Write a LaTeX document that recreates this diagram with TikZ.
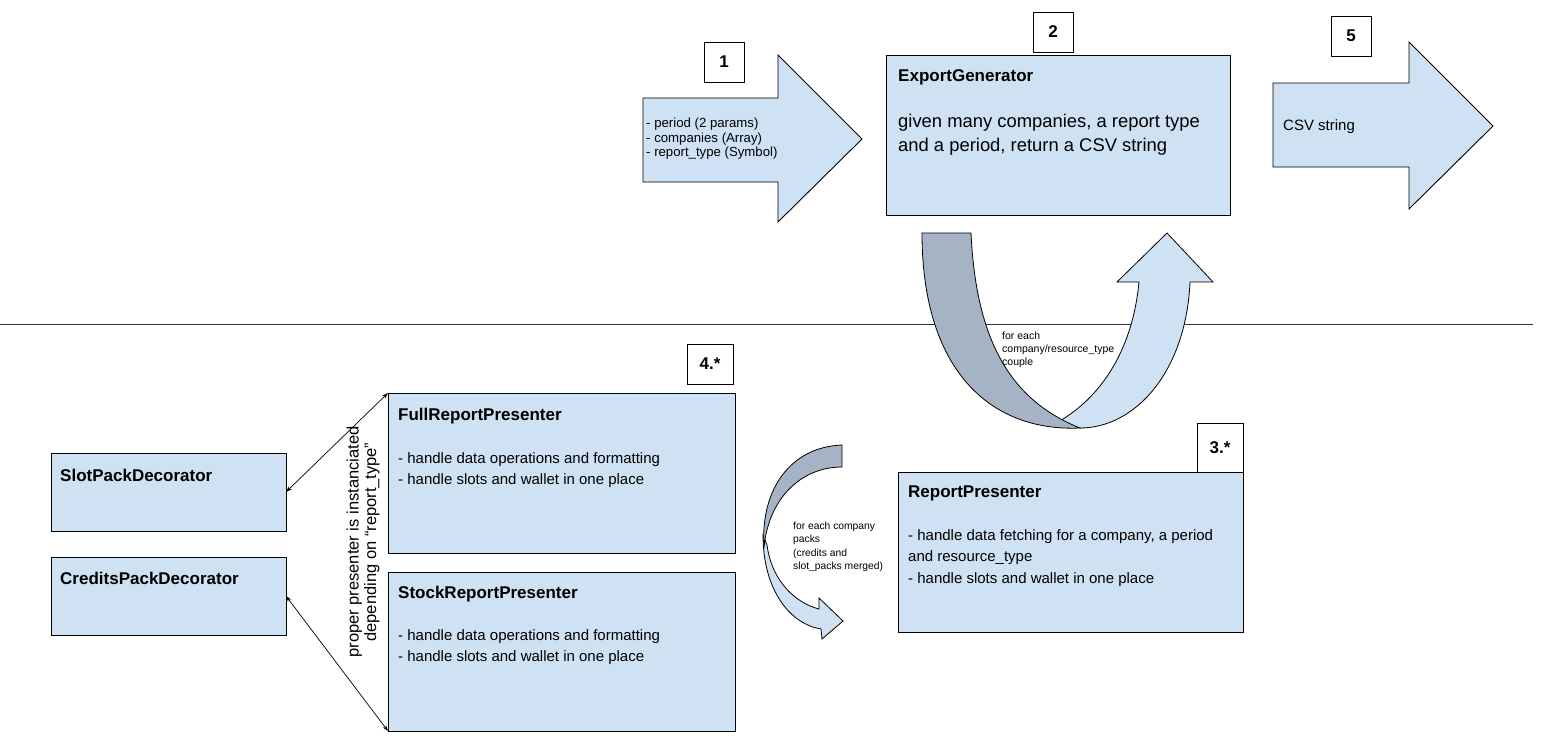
\documentclass[tikz,border=0pt]{standalone}
\usepackage{fontspec}
\setmainfont{Liberation Sans}
\usetikzlibrary{arrows.meta,calc}
\definecolor{boxblue}{HTML}{CFE2F3}
\definecolor{boxgrey}{HTML}{A4B4C4}
\begin{document}
\begin{tikzpicture}[x=1pt,y=-1pt,
  box/.style={draw=black,fill=boxblue,line width=0.9pt,anchor=north west,inner sep=0pt,outer sep=0pt},
  numbox/.style={draw=black,fill=white,line width=0.9pt,inner sep=0pt,outer sep=0pt,
    minimum width=40pt,minimum height=40pt,font=\fontsize{17}{20}\selectfont\bfseries},
  titletext/.style={anchor=west,inner sep=0pt,font=\fontsize{17}{20}\selectfont\bfseries},
  bodytext/.style={anchor=west,inner sep=0pt,align=left,font=\fontsize{15}{21.5}\selectfont},
  blockarrow/.style={draw=black,fill=boxblue,line width=0.9pt,line join=miter},
  twistgrey/.style={draw=black,fill=boxgrey,line width=0.8pt},
  twistblue/.style={draw=black,fill=boxblue,line width=0.8pt},
  smalltext/.style={anchor=west,inner sep=0pt,align=left,font=\fontsize{10.3}{13.5}\selectfont},
  link/.style={{Stealth[length=6pt,width=4pt]}-{Stealth[length=6pt,width=4pt]},line width=0.7pt}
]
\useasboundingbox (0,0) rectangle (1556,744);

% separator line
\draw[line width=0.9pt,black!80] (0,324) -- (1533,324);

% input arrow 1
\path[blockarrow] (643,98) -- (778,98) -- (778,55) -- (862,139) -- (778,222) -- (778,182) -- (643,182) -- cycle;
\node[anchor=west,inner sep=0pt,align=left,font=\fontsize{13.2}{14.5}\selectfont] (inputs) at (646,139)
  {- period (2 params)\\- companies (Array)\\- report\_type (Symbol)};
\node[numbox] (n1) at (724,62) {1};

% ExportGenerator
\node[box,minimum width=344pt,minimum height=160pt] (export) at (886,55) {};
\node[titletext] (exportT) at (898,77) {ExportGenerator};
\node[anchor=west,inner sep=0pt,align=left,font=\fontsize{18.4}{24}\selectfont] (exportB) at (898,135)
  {given many companies, a report type\\and a period, return a CSV string};
\node[numbox] (n2) at (1053,32) {2};

% output arrow 5
\path[blockarrow] (1273,83) -- (1409,83) -- (1409,42) -- (1493,126) -- (1409,209) -- (1409,167) -- (1273,167) -- cycle;
\node[anchor=west,inner sep=0pt,font=\fontsize{15}{18}\selectfont] (csv) at (1283,127) {CSV string};
\node[numbox] (n5) at (1351,36) {5};

% big U-turn arrow
\path[twistblue] (1058,422) .. controls (1105,395) and (1133,345) .. (1139,282) -- (1117,282) -- (1167,233)
  -- (1213,282) -- (1190,282) .. controls (1186,372) and (1135,428) .. (1080,428) -- cycle;
\path[twistgrey] (922,233) -- (971,233) .. controls (976,340) and (1010,400) .. (1080,428)
  .. controls (990,432) and (922,370) .. (922,233) -- cycle;
\node[smalltext,font=\fontsize{10.5}{13}\selectfont] (loop1) at (1002,350) {for each\\company/resource\_type\\couple};

% ReportPresenter
\node[box,minimum width=345pt,minimum height=160pt] (report) at (898,472) {};
\node[titletext] (reportT) at (908,493) {ReportPresenter};
\node[bodytext] (reportB) at (908,558) {- handle data fetching for a company, a period\\and resource\_type\\- handle slots and wallet in one place};
\node[numbox,minimum width=46pt,minimum height=49pt,anchor=south east] (n3) at (report.north east) {3.*};

% small curved arrow
\path[twistblue] (763,535) .. controls (763,590) and (790,624) .. (821,629) -- (822,639) -- (843,621)
  -- (819,598) -- (819,609) .. controls (796,603) and (772,582) .. (767,545) -- cycle;
\path[twistgrey] (842,445) .. controls (790,447) and (760,490) .. (764,548)
  .. controls (768,500) and (800,467) .. (842,467) -- cycle;
\node[smalltext] (loop2) at (793,547) {for each company\\packs\\(credits and\\slot\_packs merged)};

% FullReportPresenter
\node[box,minimum width=347pt,minimum height=160pt] (full) at (388,393) {};
\node[titletext] (fullT) at (398,416) {FullReportPresenter};
\node[bodytext] (fullB) at (398,470) {- handle data operations and formatting\\- handle slots and wallet in one place};
\node[numbox,minimum width=46pt] (n4) at (710,364) {4.*};

% StockReportPresenter
\node[box,minimum width=347pt,minimum height=159pt] (stock) at (388,572) {};
\node[titletext] (stockT) at (398,594) {StockReportPresenter};
\node[bodytext] (stockB) at (398,647) {- handle data operations and formatting\\- handle slots and wallet in one place};

% decorators
\node[box,minimum width=235pt,minimum height=78pt] (slot) at (51,453) {};
\node[titletext] (slotT) at (60,475) {SlotPackDecorator};
\node[box,minimum width=235pt,minimum height=78pt] (credits) at (51,557) {};
\node[titletext] (creditsT) at (60,578) {CreditsPackDecorator};

% links
\draw[link] (slot.east) -- (full.north west);
\draw[link] (credits.east) -- (stock.south west);
\node[rotate=90,inner sep=0pt,align=center,font=\fontsize{16.5}{17.5}\selectfont] (choose) at (363,542)
  {proper presenter is instanciated\\depending on “report\_type”};
\end{tikzpicture}
\end{document}
